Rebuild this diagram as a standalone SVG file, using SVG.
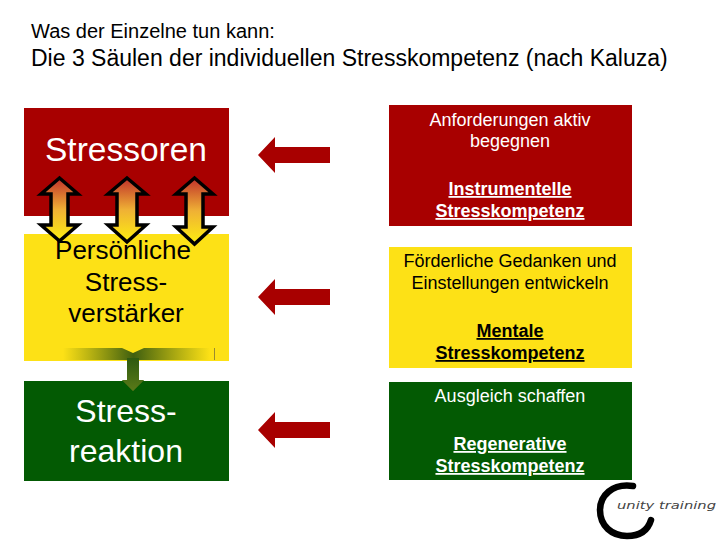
<svg xmlns="http://www.w3.org/2000/svg" width="720" height="540" viewBox="0 0 720 540">
<style>
text{font-family:"Liberation Sans",Arial,sans-serif;fill:#000;text-anchor:middle}
.w{fill:#fff}
.big{font-size:32px}
.mid{font-size:18px}
.u{text-decoration:underline;font-weight:bold}
.dbl{fill:url(#dg);stroke:#000;stroke-width:3.500;stroke-linejoin:miter}
.red{fill:#a80000}.yel{fill:#fde116}.grn{fill:#035a03}
.ar{fill:#a80000}
</style>
<defs>
<linearGradient id="dg" x1="0" y1="0" x2="0" y2="1"><stop offset="0" stop-color="#c0302a"/><stop offset="0.5" stop-color="#efb135"/><stop offset="1" stop-color="#fdee10"/></linearGradient>
<linearGradient id="hl" x1="0" y1="0" x2="1" y2="0"><stop offset="0" stop-color="#4d6a0a" stop-opacity="0"/><stop offset="0.48" stop-color="#3f5f10"/><stop offset="1" stop-color="#4d6a0a" stop-opacity="0"/></linearGradient>
<linearGradient id="vs" x1="0" y1="0" x2="0" y2="1"><stop offset="0" stop-color="#2e5a10"/><stop offset="1" stop-color="#5a7a18"/></linearGradient>
</defs>
<rect width="720" height="540" fill="#fff"/>
<g id="title">
<text x="31" y="38" style="text-anchor:start;font-size:20px">Was der Einzelne tun kann:</text>
<text x="31" y="66" style="text-anchor:start;font-size:23px">Die 3 Säulen der individuellen Stresskompetenz (nach Kaluza)</text>
</g>
<g id="node-stressoren"><rect class="red" x="24" y="108" width="205" height="108"/><text class="w" style="font-size:33.500px" x="126" y="161">Stressoren</text></g>
<g id="node-verstaerker"><rect class="yel" x="24" y="234" width="205" height="127"/><text style="font-size:26px" x="123" y="259">Persönliche</text><text style="font-size:26px" x="126" y="291">Stress-</text><text style="font-size:26px" x="126" y="322">verstärker</text></g>
<g id="node-reaktion"><rect class="grn" x="24" y="381" width="205" height="100"/><text class="big w" x="126" y="422">Stress-</text><text class="big w" x="126" y="462">reaktion</text></g>
<g id="node-instrumentell"><rect class="red" x="389" y="105" width="243" height="121"/><text class="mid w" x="510" y="126">Anforderungen aktiv</text><text class="mid w" x="510" y="147">begegnen</text><text class="mid u w" x="510" y="195">Instrumentelle</text><text class="mid u w" x="510" y="217">Stresskompetenz</text></g>
<g id="node-mental"><rect class="yel" x="389" y="247" width="243" height="121"/><text class="mid" x="510" y="267">Förderliche Gedanken und</text><text class="mid" x="510" y="289">Einstellungen entwickeln</text><text class="mid u" x="510" y="337">Mentale</text><text class="mid u" x="510" y="359">Stresskompetenz</text></g>
<g id="node-regenerativ"><rect class="grn" x="389" y="382" width="243" height="98"/><text class="mid w" x="510" y="402">Ausgleich schaffen</text><text class="mid u w" x="510" y="450">Regenerative</text><text class="mid u w" x="510" y="472">Stresskompetenz</text></g>
<g id="connectors">
<path class="dbl" d="M59.500 178L78 194H68V225H78L59.500 241L41 225H51V194H41Z"/>
<path class="dbl" d="M127 178L146 194H137V225H146L127 242L108 225H117V194H108Z"/>
<path class="dbl" d="M194.500 178L213 194H203V227H213L194.500 244L176 227H186V194H176Z"/>
<path d="M63 348H122L133 353L144 348H210V360H139V380H144L133 391L122 380H127V360H63Z" fill="url(#hl)"/>
<path d="M127 358H139V380H144L133 391L122 380H127Z" fill="url(#vs)"/>
<path d="M214.500 348V360" stroke="#9a8a30" stroke-width="1"/>
<path class="ar" d="M258 155L275 137V147H330V163H275V173Z"/>
<path class="ar" d="M258 297L275 279V289H330V305H275V315Z"/>
<path class="ar" d="M258 430L275 412V422H330V438H275V448Z"/>
</g>
<g id="logo">
<path d="M633 486C612 483 600 496 600 510C600 526 612 536 627 536C640 536 648 530 651 520" fill="none" stroke="#000" stroke-width="6.500" stroke-linecap="round"/>
<text x="617" y="509" textLength="99" lengthAdjust="spacingAndGlyphs" style="text-anchor:start;font-family:'DejaVu Sans',sans-serif;font-style:italic;font-size:11px;fill:#444">unity training</text>
</g>
</svg>
